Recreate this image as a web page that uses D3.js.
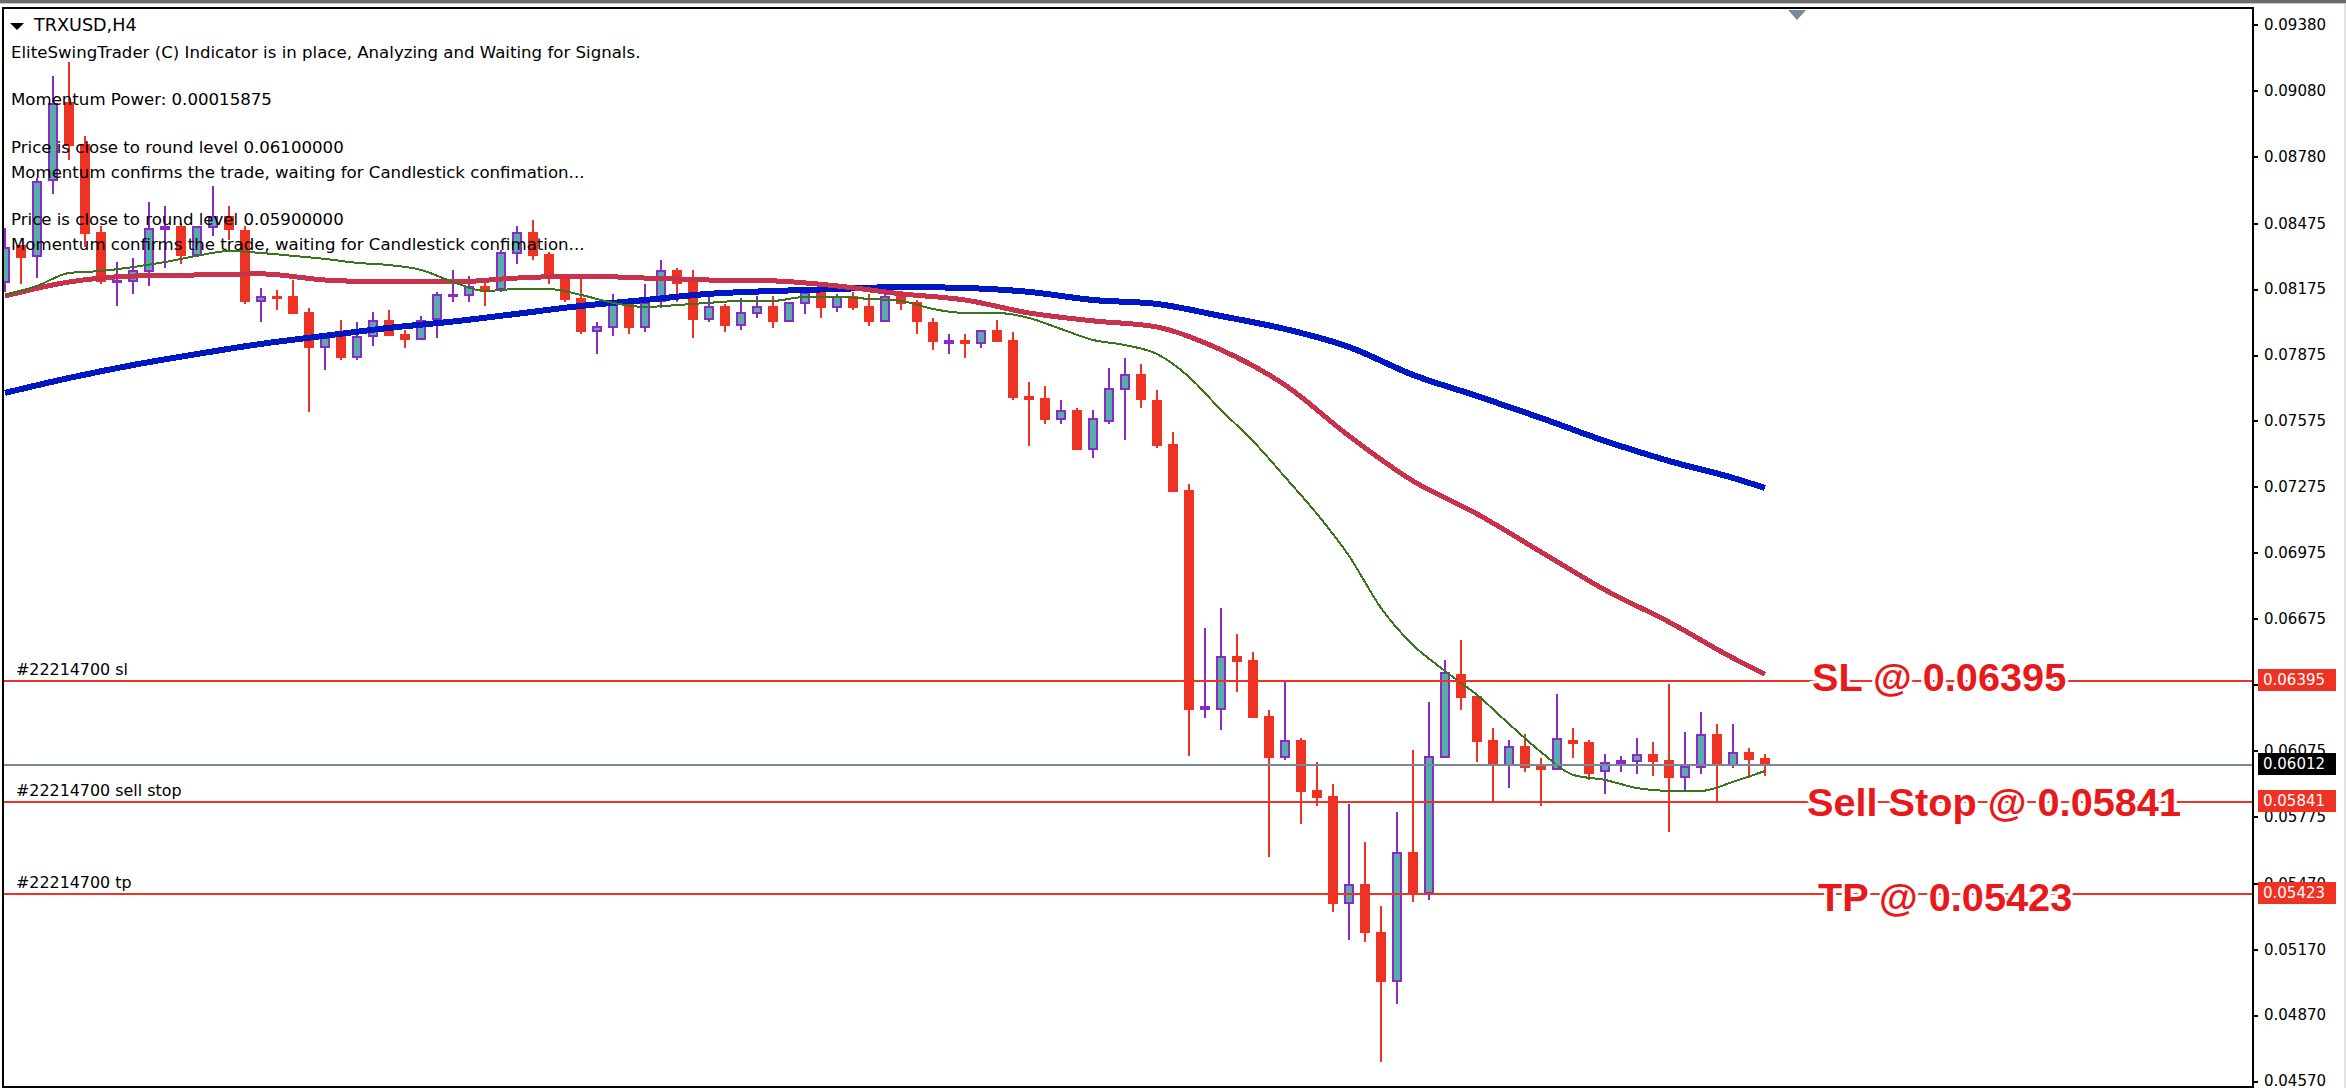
<!DOCTYPE html>
<html>
<head>
<meta charset="utf-8">
<script src="https://d3js.org/d3.v7.min.js"></script>
<style>
  body { margin: 0; background: #fff; }
  svg { display: block; }
  text { font-family: "DejaVu Sans", sans-serif; }
</style>
</head>
<body>
<div id="chart"></div>
<script>
// all prices are in points (1 point = 0.00001)
var opens = [8206,8379,8324,8670,9030,8838,8438,8210,8210,8256,
    8447,8465,8329,8456,8511,8447,8119,8146,8146,8074,
    7910,7965,7865,7960,8037,7973,7946,8037,8146,8146,
    8192,8173,8338,8438,8338,8228,8137,7983,8001,8110,
    8001,8119,8265,8219,8037,8101,8010,8065,8101,8028,
    8110,8165,8092,8146,8101,8028,8146,8119,8028,7928,
    7946,7928,7992,7946,7691,7682,7582,7627,7445,7573,
    7719,7791,7673,7473,7263,6261,6261,6507,6489,6233,
    6043,6125,5897,5870,5378,5470,5251,5023,5615,5424,
    6043,6426,6325,6125,6007,6098,6007,5989,6125,6116,
    5980,6016,6025,6061,6034,5952,5998,6152,6007,6070,
    6043];
var highs = [8456,8379,8684,9148,9212,8875,8465,8301,8319,8574,
    8556,8479,8465,8647,8556,8465,8183,8173,8219,8092,
    7965,8037,8028,8074,8083,7992,8055,8165,8265,8237,
    8210,8355,8465,8492,8346,8228,8228,8028,8156,8115,
    8201,8310,8274,8265,8146,8110,8137,8146,8146,8119,
    8173,8173,8156,8165,8156,8156,8146,8128,8046,7973,
    7973,7992,8037,7983,7755,7737,7673,7637,7627,7819,
    7865,7837,7719,7527,7290,6635,6726,6607,6526,6261,
    6389,6134,6025,5925,5834,5660,5369,5797,6079,6298,
    6489,6580,6325,6180,6125,6152,6043,6334,6180,6125,
    6061,6052,6134,6116,6380,6161,6252,6197,6197,6088,
    6061];
var lows = [8165,8201,8228,8611,8766,8370,8201,8101,8156,8192,
    8274,8292,8329,8420,8401,8110,8028,8083,8065,7618,
    7810,7855,7855,7919,7965,7910,7946,7955,8119,8119,
    8101,8165,8292,8310,8201,8119,7973,7882,7965,7973,
    7983,8092,8119,7955,8028,7983,7992,8046,8001,8028,
    8065,8046,8074,8083,8010,8028,8083,7973,7901,7882,
    7865,7910,7937,7673,7463,7564,7564,7445,7409,7564,
    7491,7637,7454,7254,6052,6225,6170,6343,6225,5592,
    6034,5742,5824,5342,5214,5205,4659,4923,5387,5396,
    6043,6261,6025,5843,5906,5980,5824,5989,6043,5943,
    5879,5980,5970,5961,5706,5888,5970,5843,5998,5952,
    5961];
var closes = [8370,8319,8670,9025,8829,8429,8210,8219,8265,8456,
    8465,8329,8465,8511,8447,8119,8146,8137,8065,7910,
    7960,7865,7965,8037,7965,7946,8037,8156,8156,8192,
    8173,8346,8438,8329,8228,8128,7983,8010,8119,8001,
    8119,8265,8201,8037,8101,8010,8074,8101,8028,8119,
    8165,8092,8146,8092,8028,8146,8110,8028,7937,7946,
    7928,7992,7937,7682,7673,7582,7627,7445,7591,7728,
    7791,7673,7463,7254,6261,6280,6507,6480,6225,6043,
    6125,5888,5861,5378,5470,5244,5023,5615,5424,6052,
    6435,6316,6116,6007,6098,5998,5989,6134,6107,5970,
    6025,6034,6061,6025,5952,6007,6152,6007,6070,6034,
    6012];

// moving averages, read every 4 candles (slow ones) and every 2 candles (fast one)
var slowIndex = d3.range(0, 109, 4).concat([110]);
var blueMa = [7705,7773,7832,7882,7928,7965,8001,8030,8065,8101,
    8128,8156,8169,8178,8187,8183,8165,8128,8110,8055,
    7996,7914,7787,7691,7591,7486,7395,7318,7272];
var redMa = [8146,8210,8237,8242,8247,8219,8210,8210,8228,8237,
    8228,8219,8215,8192,8156,8128,8069,8033,8005,7901,
    7741,7509,7304,7154,6981,6808,6662,6498,6425];
var fastIndex = d3.range(0, 111, 2);
var greenMa = [8151,8192,8251,8260,8278,8301,8329,8351,8342,8329,
    8315,8297,8287,8265,8210,8169,8178,8178,8151,8115,
    8096,8105,8115,8124,8124,8142,8142,8133,8124,8087,
    8069,8069,8046,7996,7946,7923,7882,7778,7627,7486,
    7322,7154,6963,6726,6557,6439,6330,6198,6070,5966,
    5943,5906,5893,5893,5934,5984];

var priceTicks = [9380,9080,8780,8475,8175,7875,7575,7275,6975,6675,6375,6075,5775,5470,5170,4870,4570];
var tickLabels = ["0.09380","0.09080","0.08780","0.08475","0.08175","0.07875","0.07575","0.07275","0.06975","0.06675","0.06375","0.06075","0.05775","0.05470","0.05170","0.04870","0.04570"];

var levelPrices = [6395, 5841, 5423];
var levelTags = ["#22214700 sl", "#22214700 sell stop", "#22214700 tp"];
var levelNotes = ["SL @ 0.06395", "Sell Stop @ 0.05841", "TP @ 0.05423"];
var levelLabels = ["0.06395", "0.05841", "0.05423"];
var bidPrice = 6012;
var bidLabel = "0.06012";

var infoLines = [
    "EliteSwingTrader (C) Indicator is in place, Analyzing and Waiting for Signals.",
    "Momentum Power: 0.00015875",
    "Price is close to round level 0.06100000",
    "Momentum confirms the trade, waiting for Candlestick confimation...",
    "Price is close to round level 0.05900000",
    "Momentum confirms the trade, waiting for Candlestick confimation..."
];
var infoRows = [52, 99, 147, 172, 219, 244];

var width = 2346,
    height = 1088,
    frame = {left: 4, top: 9, right: 2252, bottom: 1086};

var red = "#ee3224",
    violet = "#8a2bc8",
    teal = "#56aea6",
    slate = "#778899";

var svg = d3.select("#chart").append("svg")
    .attr("width", width)
    .attr("height", height);

// window chrome round the chart
svg.append("rect").attr("width", width).attr("height", 3).attr("fill", "#6a6a6a");
svg.append("rect").attr("y", 3).attr("width", width).attr("height", 1).attr("fill", "#c8c8c8");
svg.append("rect").attr("x", 2344).attr("y", 4).attr("width", 2).attr("height", height).attr("fill", "#e2e2e2");

svg.append("clipPath").attr("id", "plot-clip").append("rect")
    .attr("x", frame.left)
    .attr("y", frame.top)
    .attr("width", frame.right - frame.left)
    .attr("height", frame.bottom - frame.top);

var x = d3.scaleLinear().domain([0, 110]).range([5, 1765]);
var y = d3.scaleLinear().domain([4570, 9380]).range([1081.5, 25]);

var indices = d3.range(opens.length);
var isUp = function(i) { return closes[i] >= opens[i]; };

var plot = svg.append("g")
    .attr("clip-path", "url(#plot-clip)")
    .attr("shape-rendering", "crispEdges");

// wicks
plot.selectAll(".wick").data(indices).enter().append("rect")
    .attr("class", "wick")
    .attr("x", function(i) { return x(i) - 1; })
    .attr("width", 2)
    .attr("y", function(i) { return y(highs[i]); })
    .attr("height", function(i) { return y(lows[i]) - y(highs[i]); })
    .attr("fill", function(i) { return isUp(i) ? violet : red; });

// bodies, 10px wide with the 2px outline kept inside
plot.selectAll(".body").data(indices).enter().append("rect")
    .attr("class", "body")
    .attr("x", function(i) { return x(i) - 4; })
    .attr("width", 8)
    .attr("y", function(i) { return y(Math.max(opens[i], closes[i])) + 1; })
    .attr("height", function(i) { return Math.max(y(Math.min(opens[i], closes[i])) - y(Math.max(opens[i], closes[i])) - 2, 1); })
    .attr("fill", function(i) { return isUp(i) ? teal : red; })
    .attr("stroke", function(i) { return isUp(i) ? violet : red; })
    .attr("stroke-width", 2);

// moving averages
function addMa(index, values, colour, thick) {
    var line = d3.line()
        .x(function(d, k) { return x(index[k]); })
        .y(function(d) { return y(d); })
        .curve(d3.curveMonotoneX);
    plot.append("path")
        .attr("d", line(values))
        .attr("fill", "none")
        .attr("stroke", colour)
        .attr("stroke-width", thick);
}
addMa(slowIndex, blueMa, "#0018c4", 6);
addMa(slowIndex, redMa, "#c8324a", 5);
addMa(fastIndex, greenMa, "#38761d", 2);

// price lines
plot.selectAll(".level").data(levelPrices).enter().append("line")
    .attr("class", "level")
    .attr("x1", frame.left)
    .attr("x2", frame.right)
    .attr("y1", function(d) { return y(d); })
    .attr("y2", function(d) { return y(d); })
    .attr("stroke", red)
    .attr("stroke-width", 2);

plot.append("line")
    .attr("x1", frame.left)
    .attr("x2", frame.right)
    .attr("y1", y(bidPrice))
    .attr("y2", y(bidPrice))
    .attr("stroke", slate)
    .attr("stroke-width", 2);

// chart frame
svg.append("rect")
    .attr("x", frame.left - 1)
    .attr("y", frame.top - 1)
    .attr("width", frame.right - frame.left + 2)
    .attr("height", frame.bottom - frame.top + 2)
    .attr("fill", "none")
    .attr("stroke", "#000")
    .attr("stroke-width", 2)
    .attr("shape-rendering", "crispEdges");

// chart shift marker and the little menu arrow
svg.append("path").attr("d", "M1788,10L1806,10L1797,20Z").attr("fill", slate);
svg.append("path").attr("d", "M10,23L24,23L17,30Z").attr("fill", "#000");

// texts
svg.append("text")
    .attr("x", 34)
    .attr("y", 31)
    .style("font-size", "17.6px")
    .text("TRXUSD,H4");

svg.selectAll(".info").data(infoLines).enter().append("text")
    .attr("class", "info")
    .attr("x", 11)
    .attr("y", function(d, i) { return infoRows[i] + 6; })
    .style("font-size", "16.6px")
    .text(function(d) { return d; });

svg.selectAll(".tag").data(levelTags).enter().append("text")
    .attr("class", "tag")
    .attr("x", 16)
    .attr("y", function(d, i) { return y(levelPrices[i]) - 6; })
    .style("font-size", "15.9px")
    .text(function(d) { return d; });

// big notes, the white halo cuts the line round the letters
var noteX = [1812, 1807, 1818],
    noteDrop = [10, 14, 17];
svg.selectAll(".note").data(levelNotes).enter().append("text")
    .attr("class", "note")
    .attr("x", function(d, i) { return noteX[i]; })
    .attr("y", function(d, i) { return y(levelPrices[i]) + noteDrop[i]; })
    .style("font-family", "'Liberation Sans', Arial, sans-serif")
    .style("font-size", "39.7px")
    .style("font-weight", "bold")
    .style("fill", "#e8191a")
    .style("stroke", "#fff")
    .style("stroke-width", "6px")
    .style("paint-order", "stroke")
    .text(function(d) { return d; });

// price axis
var axis = d3.axisRight(y)
    .tickValues(priceTicks)
    .tickFormat(function(d, i) { return tickLabels[i]; })
    .tickSize(5)
    .tickPadding(6)
    .offset(0);

var axisG = svg.append("g")
    .attr("transform", "translate(" + (frame.right + 1) + ",0)")
    .call(axis);
axisG.select(".domain").remove();
axisG.selectAll("line").attr("stroke-width", 2).attr("shape-rendering", "crispEdges");
axisG.selectAll("text")
    .style("font-family", "'DejaVu Sans', sans-serif")
    .style("font-size", "15px");

// price tags over the axis
var tagData = levelPrices.map(function(d, i) { return {price: d, label: levelLabels[i], fill: red}; })
    .concat([{price: bidPrice, label: bidLabel, fill: "#000"}]);

var tags = svg.selectAll(".price-tag").data(tagData).enter().append("g")
    .attr("class", "price-tag")
    .attr("transform", function(d) { return "translate(2258," + y(d.price) + ")"; });
tags.append("rect")
    .attr("y", -12)
    .attr("width", 78)
    .attr("height", 22)
    .attr("fill", function(d) { return d.fill; })
    .attr("shape-rendering", "crispEdges");
tags.append("text")
    .attr("x", 5)
    .attr("y", 4)
    .style("font-size", "15px")
    .style("fill", "#fff")
    .text(function(d) { return d.label; });
</script>
</body>
</html>
